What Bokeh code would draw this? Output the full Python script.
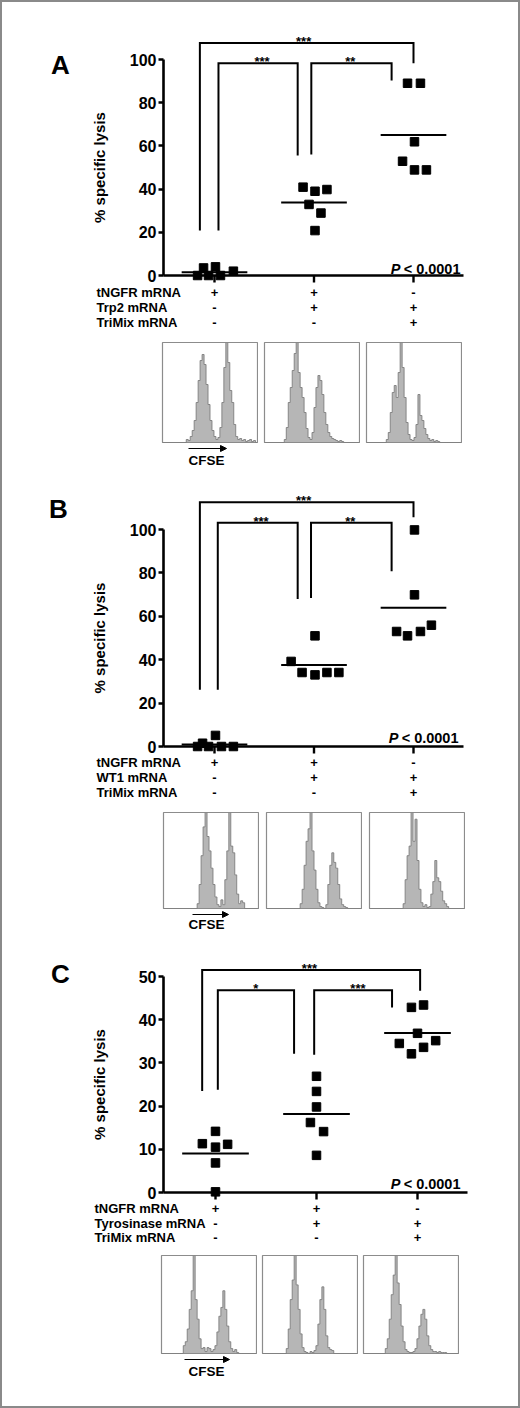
import numpy as np
from bokeh.core.properties import value
from bokeh.embed import file_html
from bokeh.layouts import column, row
from bokeh.models import Arrow, FixedTicker, LinearAxis, NormalHead, Range1d, Spacer
from bokeh.plotting import figure
from bokeh.resources import INLINE

FONT = "Liberation Sans"
BOX_GREY = "#8c8c8c"
W = 516  # inner width of the page frame

groups = [1, 2, 3]
signs = [["+", "+", "-"], ["-", "+", "+"], ["-", "-", "+"]]

# ---- panel A: Trp2 ----
a_rows = ["tNGFR mRNA", "Trp2 mRNA", "TriMix mRNA"]
a_vals = [[0, 3.5, 0, 4, 0, 2],
          [40.9, 39, 39.8, 32.9, 28.9, 20.8],
          [89, 89, 61.9, 52.9, 48.9, 48.9]]
a_jit = [[-0.17, -0.11, -0.06, 0.01, 0.06, 0.19],
         [-0.11, 0.01, 0.13, -0.05, 0.07, 0.01],
         [-0.06, 0.07, 0.01, -0.11, 0.01, 0.13]]
a_means = [1.5, 33.8, 65.1]
# (x left, x right, y top, y left leg end, y right leg end, stars, stars x)
a_brackets = [(0.853, 3.0, 107.6, 20.8, 98.3, "***", 1.896),
              (1.04, 1.836, 98.3, 20.8, 55.6, "***", 1.478),
              (1.973, 2.78, 98.3, 56.0, 90.3, "**", 2.365)]
a_hist = [
    [0, 0, 0, 0, 0, 0, 0, 0, 0, 0, 0, 0, 3, 2, 6, 12, 22, 40, 62, 82, 88, 78, 58, 38,
     22, 12, 6, 3, 5, 15, 40, 75, 100, 80, 52, 40, 18, 6, 3, 4, 2, 3, 1, 2, 3, 1, 2, 0],
    [0, 0, 0, 0, 0, 0, 0, 0, 0, 0, 3, 15, 40, 55, 72, 89, 100, 70, 55, 45, 30, 14, 5, 3,
     10, 35, 55, 67, 62, 48, 30, 18, 10, 6, 4, 3, 2, 1, 2, 1, 0, 0, 0, 0, 0, 0, 0, 0],
    [0, 0, 0, 0, 0, 0, 0, 0, 0, 0, 3, 10, 30, 50, 57, 45, 70, 100, 75, 45, 20, 8, 3, 2,
     5, 18, 48, 27, 22, 14, 8, 4, 2, 3, 1, 2, 1, 0, 0, 0, 0, 0, 0, 0, 0, 0, 0, 0],
]

# ---- panel B: WT1 ----
b_rows = ["tNGFR mRNA", "WT1 mRNA", "TriMix mRNA"]
b_vals = [[0, 1.5, 0, 5.1, 0, 0],
          [39.2, 51, 34.1, 33, 34.1, 34.1],
          [99.8, 69.9, 53, 51, 53, 55.9]]
b_jit = [[-0.17, -0.12, -0.06, 0.01, 0.07, 0.19],
         [-0.23, 0.01, -0.12, 0.01, 0.13, 0.25],
         [0.01, 0.01, -0.17, -0.06, 0.07, 0.18]]
b_means = [0.9, 37.6, 63.9]
b_brackets = [(0.853, 3.0, 112.6, 26.1, 105.7, "***", 1.896),
              (1.033, 1.836, 103.1, 26.1, 68.0, "***", 1.468),
              (1.97, 2.78, 103.1, 68.4, 80.8, "**", 2.365)]
b_hist = [
    [0, 0, 0, 0, 0, 0, 0, 0, 0, 0, 0, 0, 0, 0, 0, 0, 0, 5, 25, 55, 85, 100, 75, 60,
     42, 25, 12, 4, 2, 9, 4, 30, 60, 100, 65, 58, 35, 15, 5, 8, 6, 0, 0, 0, 0, 0, 0, 0],
    [0, 0, 0, 0, 0, 0, 0, 0, 0, 0, 0, 0, 0, 0, 0, 0, 0, 5, 20, 45, 70, 83, 100, 60,
     40, 20, 6, 2, 1, 0, 4, 25, 45, 58, 48, 42, 25, 10, 4, 2, 1, 0, 0, 0, 0, 0, 0, 0],
    [0, 0, 0, 0, 0, 0, 0, 0, 0, 0, 0, 0, 0, 0, 0, 0, 0, 5, 30, 55, 65, 100, 70, 93,
     50, 20, 6, 2, 4, 1, 2, 15, 28, 50, 32, 28, 18, 8, 5, 2, 0, 0, 0, 0, 0, 0, 0, 0],
]

# ---- panel C: Tyrosinase ----
c_rows = ["tNGFR mRNA", "Tyrosinase mRNA", "TriMix mRNA"]
c_vals = [[14.15, 11.3, 10.5, 11.15, 6.85, 0.15],
          [26.9, 23.4, 19.8, 16.2, 14.1, 8.6],
          [42.85, 43.4, 36.85, 34.5, 33.6, 35.15, 32.1]]
c_jit = [[0, -0.13, 0, 0.12, 0, 0],
         [0, 0, 0, -0.06, 0.07, 0],
         [-0.06, 0.06, 0, -0.18, 0.06, 0.18, -0.06]]
c_means = [9.0, 18.2, 36.9]
c_brackets = [(0.868, 3.026, 51.5, 23.5, 46.7, "***", 1.93),
              (1.023, 1.778, 46.8, 23.8, 32.1, "*", 1.40),
              (1.977, 2.748, 46.8, 31.9, 42.8, "***", 2.41)]
c_hist = [
    [0, 0, 0, 0, 0, 0, 0, 0, 0, 0, 0, 8, 12, 25, 45, 64, 100, 55, 35, 15, 5, 6, 2, 6,
     5, 2, 4, 8, 22, 38, 47, 64, 45, 28, 12, 5, 2, 4, 1, 0, 0, 0, 0, 0, 0, 0, 0, 0],
    [0, 0, 0, 0, 0, 0, 0, 0, 0, 0, 0, 0, 5, 25, 55, 75, 100, 70, 45, 20, 6, 2, 1, 0,
     2, 1, 3, 8, 30, 55, 68, 45, 18, 6, 4, 3, 0, 0, 0, 0, 0, 0, 0, 0, 0, 0, 0, 0],
    [0, 0, 0, 0, 0, 0, 0, 0, 0, 0, 0, 5, 15, 35, 60, 80, 100, 72, 50, 28, 12, 4, 2, 1,
     1, 2, 5, 15, 28, 40, 45, 35, 18, 8, 4, 2, 2, 1, 2, 1, 1, 1, 0, 0, 0, 0, 0, 0],
]

# page geometry of every panel (page pixels)
geo_a = dict(top=2, bottom=341, y0=275, ypx=2.16,
             x_left=163, x_right=463, x1=214, xpx=99.5, row_y=[292, 307, 322], row_x=96,
             letter=(60, 64), p_xy=(460, 268), standoff=19,
             h_left=162, h_gap=5, h_top=342, h_h=100, cfse_bottom=474,
             arrow=(188, 226, 448), cfse=(206, 460))
geo_b = dict(top=474, bottom=811, y0=746, ypx=2.17,
             x_left=163, x_right=463, x1=214, xpx=99.5, row_y=[762, 777, 792], row_x=96,
             letter=(58, 508), p_xy=(458, 737), standoff=19,
             h_left=163, h_gap=6, h_top=812, h_h=96, cfse_bottom=932,
             arrow=(192, 228, 914), cfse=(206, 924))
geo_c = dict(top=932, bottom=1254, y0=1192, ypx=4.32,
             x_left=163, x_right=467, x1=215, xpx=101, row_y=[1208, 1223, 1237], row_x=94,
             letter=(60, 973), p_xy=(460, 1183), standoff=28,
             h_left=161, h_gap=4, h_top=1255, h_h=98, cfse_bottom=1406,
             arrow=(184, 229, 1359), cfse=(206, 1371))


def bold_text(p, x, y, texts, size, align="left", style="bold", baseline="middle"):
    p.text(x=x, y=y, text=texts, text_align=align, text_baseline=baseline,
           text_font=value(FONT), text_font_style=style, text_font_size=size,
           text_color="black")


def plain_figure(width, height, xr, yr, **kw):
    p = figure(width=width, height=height, x_range=Range1d(*xr), y_range=Range1d(*yr),
               x_axis_location=None, y_axis_location=None,
               toolbar_location=None, output_backend="svg", **kw)
    p.outline_line_color = None
    p.grid.visible = False
    return p


def scatter_panel(letter, rows, vals, jit, means, brackets, yticks, g):
    def dx(px):
        return 1 + (px - g["x1"]) / g["xpx"]

    def dy(py):
        return (g["y0"] - py) / g["ypx"]

    p = plain_figure(W, g["bottom"] - g["top"], (dx(2), dx(2 + W)),
                     (dy(g["bottom"]), dy(g["top"])), min_border=0)

    yaxis = LinearAxis(bounds=(0, yticks[-1]), ticker=FixedTicker(ticks=yticks, minor_ticks=[]),
                       axis_label="% specific lysis", fixed_location=dx(g["x_left"]))
    yaxis.axis_line_width = 2.6
    yaxis.axis_line_color = "black"
    yaxis.major_tick_line_width = 2.4
    yaxis.major_tick_line_color = "black"
    yaxis.major_tick_out = 5
    yaxis.major_tick_in = 0
    yaxis.major_label_standoff = 2
    yaxis.major_label_text_font = FONT
    yaxis.major_label_text_font_style = "bold"
    yaxis.major_label_text_font_size = "16px"
    yaxis.major_label_text_color = "black"
    yaxis.axis_label_text_font = FONT
    yaxis.axis_label_text_font_style = "bold"
    yaxis.axis_label_text_font_size = "15px"
    yaxis.axis_label_text_color = "black"
    yaxis.axis_label_standoff = g["standoff"]
    p.add_layout(yaxis, "left")

    # x axis at zero
    p.segment(x0=[dx(g["x_left"])], y0=[0], x1=[dx(g["x_right"])], y1=[0],
              line_color="black", line_width=2.7)
    p.segment(x0=groups, y0=[0] * 3, x1=groups, y1=[-7 / g["ypx"]] * 3,
              line_color="black", line_width=2.4)

    # brackets with stars
    for xl, xr, yt, yl, yr, stars, sx in brackets:
        p.line(x=[xl, xl, xr, xr], y=[yl, yt, yt, yr], line_color="black",
               line_width=2, line_join="miter")
        bold_text(p, [sx], [yt + 1.5 / g["ypx"]], [stars], "13px", align="center",
                  baseline="alphabetic")

    # points and means
    for gi, (v, j) in enumerate(zip(vals, jit)):
        px = [groups[gi] + o for o in j]
        p.scatter(x=px, y=v, marker="square", size=8.5, color="black")
        p.segment(x0=[groups[gi] - 0.33], y0=[means[gi]], x1=[groups[gi] + 0.33],
                  y1=[means[gi]], line_color="black", line_width=2)

    # P value
    pxr, pyb = g["p_xy"]
    bold_text(p, [dx(pxr)], [dy(pyb)], ["< 0.0001"], "14.5px", align="right",
              baseline="alphabetic")
    bold_text(p, [dx(pxr - 60)], [dy(pyb)], ["P"], "14.5px", align="right",
              style="bold italic", baseline="alphabetic")

    # mRNA table
    for ri, name in enumerate(rows):
        yy = dy(g["row_y"][ri])
        bold_text(p, [dx(g["row_x"])], [yy], [name], "13px")
        bold_text(p, groups, [yy] * 3, signs[ri], "13px", align="center")

    lx, ly = g["letter"]
    bold_text(p, [dx(lx)], [dy(ly)], [letter], "26px", align="center")
    return p


def hist_row(hists, g):
    figs = []
    for counts in hists:
        n = len(counts)
        h = plain_figure(97, g["h_h"] + 2, (0, n), (0, 100), min_border=1)
        h.outline_line_color = BOX_GREY
        h.outline_line_width = 1.2
        xs, ys = [0], [0]
        for i, c in enumerate(counts):
            xs += [i, i + 1]
            ys += [c, c]
        xs.append(n)
        ys.append(0)
        h.patch(xs, ys, fill_color="#b6b6b6", line_color="#7e7e7e", line_width=0.9)
        figs.append(h)
    spacer = Spacer(width=g["h_left"] - 3 - g["h_gap"], height=10)
    return row([spacer] + figs, spacing=g["h_gap"])


def cfse_strip(g):
    top = g["h_top"] + g["h_h"] + 1
    c = plain_figure(W, g["cfse_bottom"] - top, (2, 2 + W), (-g["cfse_bottom"], -top),
                     min_border=0)
    a0, a1, ay = g["arrow"]
    c.add_layout(Arrow(end=NormalHead(size=6, fill_color="black", line_color="black"),
                       x_start=a0, y_start=-ay, x_end=a1, y_end=-ay,
                       line_color="black", line_width=1.2))
    cx, cy = g["cfse"]
    bold_text(c, [cx], [-cy], ["CFSE"], "13.5px", align="center")
    return c


parts = []
for letter, rows, vals, jit, means, brackets, hists, ticks, g in [
        ("A", a_rows, a_vals, a_jit, a_means, a_brackets, a_hist, [0, 20, 40, 60, 80, 100], geo_a),
        ("B", b_rows, b_vals, b_jit, b_means, b_brackets, b_hist, [0, 20, 40, 60, 80, 100], geo_b),
        ("C", c_rows, c_vals, c_jit, c_means, c_brackets, c_hist, [0, 10, 20, 30, 40, 50], geo_c)]:
    parts.append(scatter_panel(letter, rows, vals, jit, means, brackets, ticks, g))
    parts.append(hist_row(hists, g))
    parts.append(cfse_strip(g))

layout = column(parts, styles={"border": "2px solid #8a8a8a"})

open("out.html", "w").write(file_html(layout, INLINE))
